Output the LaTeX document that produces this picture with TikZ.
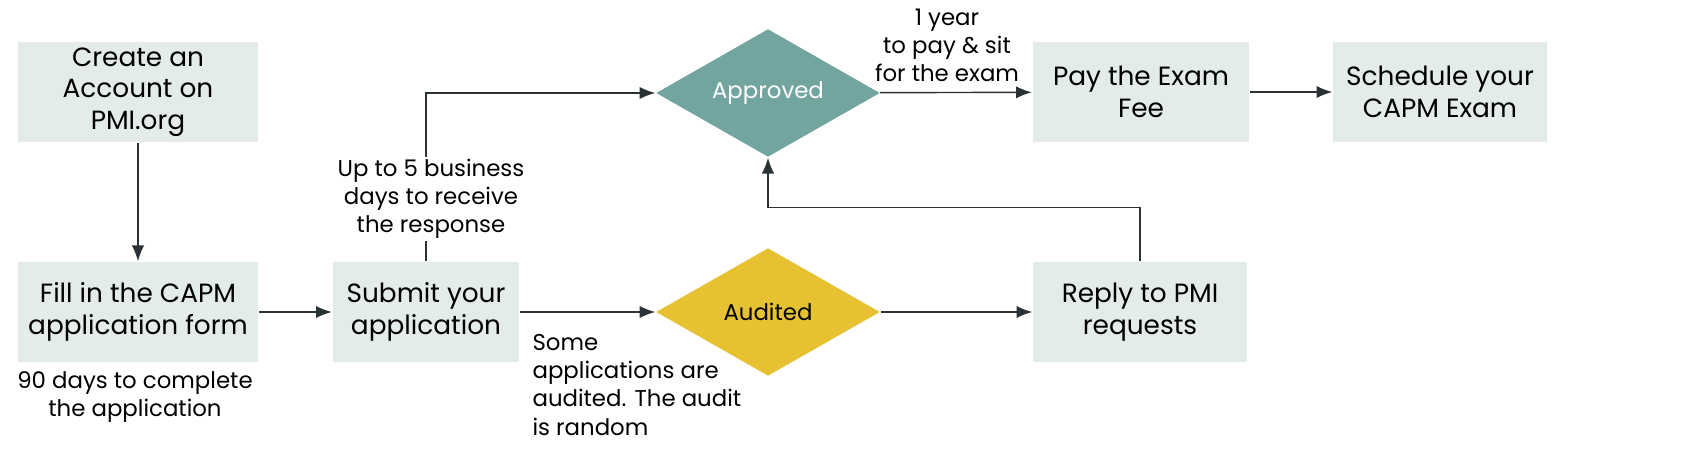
\documentclass[tikz,border=0pt]{standalone}
\usepackage{fontspec}
\setmainfont{Poppins}
\usetikzlibrary{shapes.geometric,arrows.meta}
\definecolor{boxfill}{HTML}{E3ECEA}
\definecolor{apprfill}{HTML}{72A5A0}
\definecolor{audfill}{HTML}{E6C233}
\definecolor{linecol}{HTML}{2B3236}

\begin{document}
\begin{tikzpicture}[x=0.02cm,y=-0.02cm,
        -{Latex[length=9pt,width=7pt]},thick,draw=linecol,color=linecol,
        step box/.style={rectangle,fill=boxfill,draw=none,align=center,
            font=\fontsize{15}{18}\selectfont,text=black},
        decision/.style={diamond,draw=none,aspect=1.75,inner sep=0pt,
            minimum width=4.48cm,minimum height=2.56cm,font=\fontsize{13}{16}\selectfont},
        note/.style={align=center,font=\fontsize{13}{16}\selectfont,text=black}]

    \useasboundingbox (0,0) rectangle (1689,466);

    \node[step box, minimum width=4.8cm, minimum height=2cm] (account) at (138,92) {Create an\\Account on\\PMI.org};
    \node[step box, minimum width=4.8cm, minimum height=2cm] (fill) at (138,312) {Fill in the CAPM\\application form};
    \node[step box, minimum width=3.74cm, minimum height=2cm] (submit) at (426,312) {Submit your\\application};
    \node[decision, fill=apprfill, text=white] (approved) at (768,93) {Approved};
    \node[decision, fill=audfill, text=black] (audited) at (768,312) {Audited};
    \node[step box, minimum width=4.28cm, minimum height=2cm] (reply) at (1140,312) {Reply to PMI\\requests};
    \node[step box, minimum width=4.34cm, minimum height=2cm] (pay) at (1141,92) {Pay the Exam\\Fee};
    \node[step box, minimum width=4.28cm, minimum height=2cm] (schedule) at (1440,92) {Schedule your\\CAPM Exam};

    \draw (account) -- (fill);
    \draw (fill) -- (submit);
    \draw (submit) -- (audited);
    \draw (submit.north) |- (approved.west);
    \draw (audited) -- (reply);
    \draw (reply.north) -- ++(0,-54) -| (approved.south);
    \draw (approved) -- (pay);
    \draw (pay) -- (schedule);

    % notes on top, hiding the line behind them
    \node[note] (yearnote) at (947,45) {1 year\\to pay \& sit\\for the exam};
    \node[note, fill=white, inner sep=1pt] (respnote) at (431,199) {Up to 5 business\\days to receive\\the response};
    \node[note] (daysnote) at (135,397) {90 days to complete\\the application};
    \node[note, align=left, anchor=north west] (auditnote) at (526,328) {Some\\applications are\\audited. The audit\\is random};

\end{tikzpicture}
\end{document}
